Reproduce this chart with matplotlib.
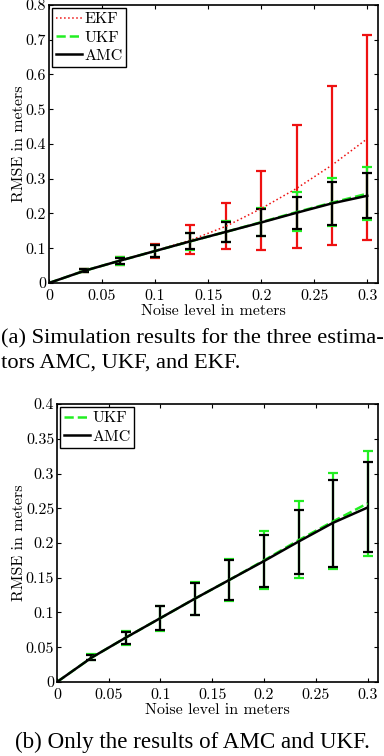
import matplotlib
matplotlib.use('Agg')
import matplotlib.pyplot as plt
import numpy as np

# Nivel de ruido (m) y resultados RMSE
noise = [0, 1/30, 2/30, 3/30, 4/30, 5/30, 6/30, 7/30, 8/30, 9/30]

ekf_mean = [0, 0.035, 0.064, 0.093, 0.123, 0.163, 0.214, 0.272, 0.339, 0.415]
ekf_low = [0.031, 0.053, 0.072, 0.084, 0.098, 0.096, 0.100, 0.108, 0.123]
ekf_high = [0.040, 0.074, 0.111, 0.166, 0.231, 0.321, 0.455, 0.566, 0.715]

ukf_mean = [0, 0.035, 0.064, 0.092, 0.120, 0.147, 0.175, 0.204, 0.231, 0.257]
ukf_low = [0.031, 0.053, 0.074, 0.096, 0.117, 0.134, 0.149, 0.163, 0.182]
ukf_high = [0.040, 0.074, 0.110, 0.144, 0.177, 0.217, 0.261, 0.301, 0.333]

amc_mean = [0, 0.035, 0.064, 0.092, 0.120, 0.147, 0.174, 0.202, 0.229, 0.251]
amc_low = [0.032, 0.055, 0.075, 0.097, 0.118, 0.136, 0.155, 0.166, 0.187]
amc_high = [0.039, 0.072, 0.110, 0.143, 0.175, 0.212, 0.248, 0.291, 0.317]

x_ticks = [0, 0.05, 0.1, 0.15, 0.2, 0.25, 0.3]
x_ticklabels = ['0', '0.05', '0.1', '0.15', '0.2', '0.25', '0.3']
y_ticks_a = [0, 0.1, 0.2, 0.3, 0.4, 0.5, 0.6, 0.7, 0.8]
y_ticklabels_a = ['0', '0.1', '0.2', '0.3', '0.4', '0.5', '0.6', '0.7', '0.8']
y_ticks_b = [0, 0.05, 0.1, 0.15, 0.2, 0.25, 0.3, 0.35, 0.4]
y_ticklabels_b = ['0', '0.05', '0.1', '0.15', '0.2', '0.25', '0.3', '0.35', '0.4']

plt.rcParams['font.family'] = ['cmr10', 'DejaVu Serif']
plt.rcParams['axes.formatter.use_mathtext'] = True

ROJO = '#ee1111'
VERDE = '#22ee22'
NEGRO = 'black'


def barras(ax, mean, low, high, color, lw=1.6):
    x = np.array(noise[1:])
    m = np.array(mean[1:])
    yerr = [m - np.array(low), np.array(high) - m]
    ax.errorbar(x, m, yerr=yerr, fmt='none', ecolor=color, elinewidth=lw,
                capsize=3.5, capthick=lw)


def estilo(ax, yt, ytl, ymax):
    ax.set_xlim(0, 0.31)
    ax.set_ylim(0, ymax)
    ax.set_xticks(x_ticks)
    ax.set_xticklabels(x_ticklabels)
    ax.set_yticks(yt)
    ax.set_yticklabels(ytl)
    ax.tick_params(direction='in', top=True, right=True, labelsize=11.5,
                   length=3)
    ax.tick_params(axis='x', pad=4.5)
    ax.tick_params(axis='y', pad=2)
    ax.set_xlabel('Noise level in meters', fontsize=11.5, labelpad=1)
    ax.set_ylabel('RMSE in meters', fontsize=11.5, labelpad=0)
    for s in ax.spines.values():
        s.set_linewidth(1.2)


def leyenda(ax):
    leg = ax.legend(loc='upper left', fontsize=11.5, fancybox=False,
                    edgecolor='black', framealpha=1, handlelength=1.6,
                    handletextpad=0.15, borderpad=0.25, labelspacing=0.25,
                    borderaxespad=0.2)
    leg.get_frame().set_linewidth(1.0)


fig = plt.figure(figsize=(3.84, 7.56), dpi=100)

# --- (a) tres estimadores ---
ax1 = fig.add_axes([0.1276, 0.6257, 0.8564, 0.3677])
barras(ax1, ekf_mean, ekf_low, ekf_high, ROJO)
barras(ax1, ukf_mean, ukf_low, ukf_high, VERDE)
barras(ax1, amc_mean, amc_low, amc_high, NEGRO)
ax1.plot(noise, ekf_mean, linestyle=':', color=ROJO, lw=1.1, label='EKF')
ax1.plot(noise, ukf_mean, linestyle='--', color=VERDE, lw=1.8, label='UKF')
ax1.plot(noise, amc_mean, linestyle='-', color=NEGRO, lw=1.8, label='AMC')
estilo(ax1, y_ticks_a, y_ticklabels_a, 0.8)
leyenda(ax1)

# --- (b) solo AMC y UKF ---
ax2 = fig.add_axes([0.1484, 0.0979, 0.8356, 0.3677])
barras(ax2, ukf_mean, ukf_low, ukf_high, VERDE)
barras(ax2, amc_mean, amc_low, amc_high, NEGRO)
ax2.plot(noise, ukf_mean, linestyle='--', color=VERDE, lw=1.8, label='UKF')
ax2.plot(noise, amc_mean, linestyle='-', color=NEGRO, lw=1.8, label='AMC')
estilo(ax2, y_ticks_b, y_ticklabels_b, 0.4)
leyenda(ax2)

# Pies de figura
fig.text(0.002, 1 - 339 / 756, '(a) Simulation results for the three estima-',
         ha='left', va='center', family='Liberation Serif', fontsize=16.2)
fig.text(0.002, 1 - 363 / 756, 'tors AMC, UKF, and EKF.', ha='left',
         va='center', family='Liberation Serif', fontsize=16.2)
fig.text(0.5, 1 - 742 / 756, '(b) Only the results of AMC and UKF.',
         ha='center', va='center', family='Liberation Serif', fontsize=16.6)

fig.savefig('out.png', dpi=100)
